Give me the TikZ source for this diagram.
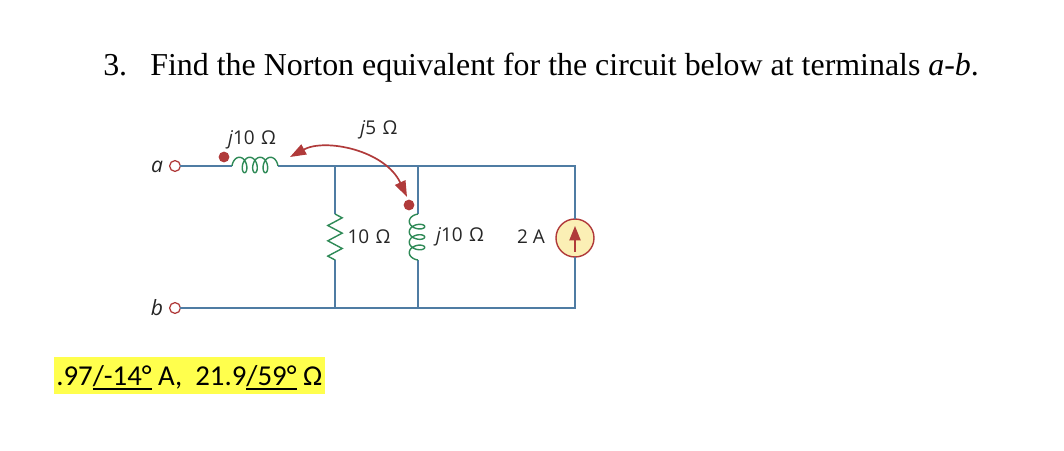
\documentclass[tikz,border=0pt]{standalone}
\usepackage{fontspec}
\setmainfont{Liberation Serif}
\newfontfamily\labelfont{Open Sans}
\newfontfamily\notefont{Carlito}
\usetikzlibrary{arrows.meta, decorations.pathmorphing}
\definecolor{wireblue}{HTML}{4F7CA3}
\definecolor{dotred}{HTML}{B03A3A}
\definecolor{partgreen}{HTML}{2F8A57}
\definecolor{srcfill}{HTML}{FBEFB5}
\definecolor{marker}{HTML}{FFFF4D}
\newcommand{\angbar}[1]{\setbox0\hbox{#1}\rlap{\rule[-3.2pt]{\wd0}{1.1pt}}\box0\relax}

\begin{document}
\begin{tikzpicture}[% styles used in image code
wire/.style = {draw=wireblue, line width=1pt},
part/.style = {draw=partgreen, line width=1pt},
res/.style = {part, decoration={zigzag, segment length=0.383cm, amplitude=0.18cm}, decorate},
term/.style = {circle, draw=dotred, fill=white, line width=0.9pt,
               minimum size=0.27cm, inner sep=0pt, outer sep=0pt},
dot/.style = {circle, fill=dotred, minimum size=0.27cm, inner sep=0pt, outer sep=0pt},
src/.style = {circle, draw=dotred, fill=srcfill, line width=1pt,
              minimum size=0.95cm, inner sep=0pt, outer sep=0pt},
lbl/.style = {font=\labelfont\fontsize{13.5}{16}\selectfont, text=black!85, inner sep=0pt},
coil/.pic = {\draw[part] plot[domain=-97:1177, samples=160, smooth]
             ({0.26*(\x+97)/360+0.115*(sin(\x)+sin(97))},{0.025+0.1925*cos(\x)});},
                        ]
	\useasboundingbox (0,0) rectangle (26.6,11.25);

	% question
	\node[anchor=base west, inner sep=0pt, font=\fontsize{22.7}{27}\selectfont] (num) at (2.575,9.35) {3.};
	\node[anchor=base west, inner sep=0pt, font=\fontsize{22.7}{27}\selectfont] (title) at (3.75,9.35)
		{Find the Norton equivalent for the circuit below at terminals \textit{a-b}.};

	% corners of the circuit
	\coordinate (L1in) at (5.8,7.1);
	\coordinate (L1out) at (6.95,7.1);
	\coordinate (Mtop) at (8.375,7.1);
	\coordinate (Ntop) at (10.45,7.1);
	\coordinate (Rtop) at (14.375,7.1);
	\coordinate (Mbot) at (8.375,3.55);
	\coordinate (Nbot) at (10.45,3.55);
	\coordinate (Rbot) at (14.375,3.55);
	\coordinate (R1a) at (8.375,5.9);
	\coordinate (R1b) at (8.375,4.75);
	\coordinate (L2a) at (10.45,5.9);
	\coordinate (L2b) at (10.45,4.75);

	\node[term] (a) at (4.375,7.1) {};
	\node[term] (b) at (4.375,3.55) {};
	\node[src] (I) at (14.375,5.3) {};

	% wires
	\draw[wire] (a) -- (L1in);
	\draw[wire] (L1out) -- (Rtop) -- (I);
	\draw[wire] (I) -- (Rbot) -- (b);
	\draw[wire] (Mtop) -- (R1a);
	\draw[wire] (R1b) -- (Mbot);
	\draw[wire] (Ntop) -- (L2a);
	\draw[wire] (L2b) -- (Nbot);

	% parts
	\pic at (L1in) {coil};
	\pic[rotate=90] at (L2b) {coil};
	\draw[res] (R1a) -- (R1b);

	% source arrow
	\coordinate (Ia) at (14.375,4.95);
	\coordinate (Ib) at (14.375,5.6);
	\draw[dotred, line width=1.1pt, -{Triangle[length=0.36cm, width=0.28cm]}] (Ia) -- (Ib);

	% coupling
	\node[dot] (d1) at (5.6,7.325) {};
	\node[dot] (d2) at (10.225,6.125) {};
	\coordinate (M1) at (7.25,7.325);
	\coordinate (M2) at (10.175,6.325);
	\draw[dotred, line width=1.2pt, {Triangle[length=0.4cm, width=0.28cm]}-{Triangle[length=0.4cm, width=0.28cm]}]
		(M1) .. controls (8.125,7.8) and (9.625,7.5) .. (M2);

	% labels
	\node[lbl, font=\labelfont\fontsize{15}{18}\selectfont] (la) at (3.925,7.075) {\textit{a}};
	\node[lbl, font=\labelfont\fontsize{15}{18}\selectfont] (lb) at (3.925,3.55) {\textit{b}};
	\node[lbl] (lL1) at (6.3,7.75) {\textit{j}10\,\,Ω};
	\node[lbl] (lM) at (9.475,8) {\textit{j}5\,\,Ω};
	\node[lbl] (lR) at (9.225,5.325) {10\,\,Ω};
	\node[lbl] (lL2) at (11.5,5.325) {\textit{j}10\,\,Ω};
	\node[lbl] (lI) at (13.275,5.325) {2 A};

	% answer
	\fill[marker] (1.35,1.4) rectangle (8.125,2.325);
	\node[anchor=base west, inner sep=0pt, font=\notefont\fontsize{20.5}{24}\selectfont] (ans) at (1.4,1.62)
		{.97\angbar{/-14°} A,\ \ 21.9\angbar{/59°} Ω};
\end{tikzpicture}
\end{document}
